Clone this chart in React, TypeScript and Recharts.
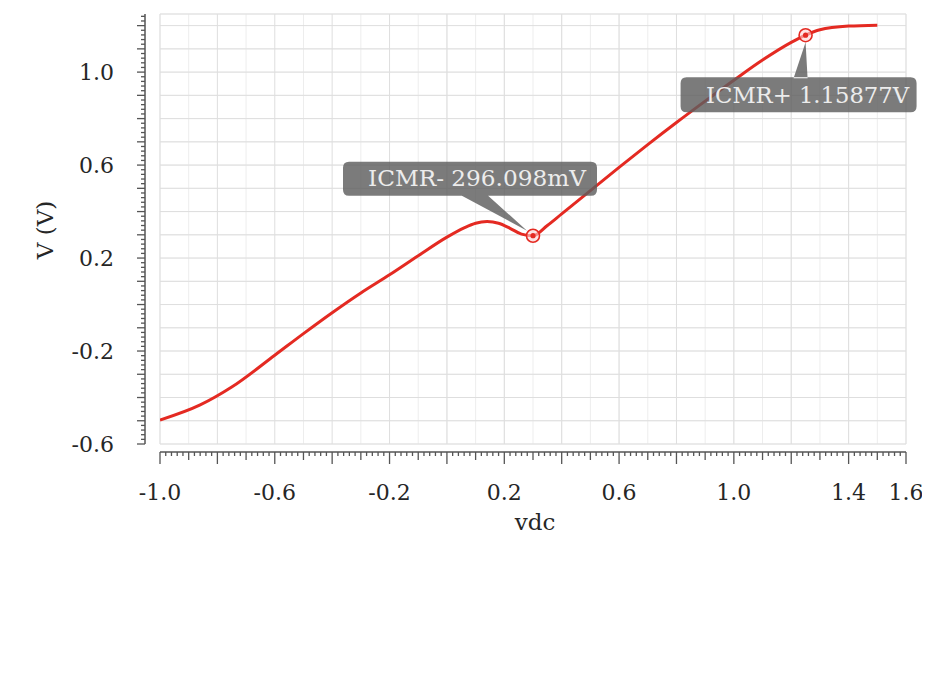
import React from 'react';
import { LineChart, Line, XAxis, YAxis, CartesianGrid, ReferenceDot } from 'recharts';

// ---- data ----
const VDC = [-1.0, -0.86, -0.75, -0.6, -0.5, -0.4, -0.3, -0.2, -0.1, 0.0, 0.06, 0.1, 0.14, 0.18, 0.22, 0.26, 0.3, 0.35, 0.4, 0.5, 0.6, 0.7, 0.8, 0.9, 1.0, 1.1, 1.2, 1.25, 1.3, 1.4, 1.5];
const VOUT = [-0.497, -0.432, -0.355, -0.218, -0.125, -0.035, 0.05, 0.128, 0.21, 0.29, 0.33, 0.35, 0.357, 0.35, 0.328, 0.303, 0.296, 0.34, 0.39, 0.49, 0.59, 0.688, 0.783, 0.875, 0.965, 1.052, 1.128, 1.159, 1.182, 1.198, 1.202];

const X_TICK_LABELS = [-1.0, -0.6, -0.2, 0.2, 0.6, 1.0, 1.4, 1.6];
const Y_TICK_LABELS = [-0.6, -0.2, 0.2, 0.6, 1.0];
const X_DOMAIN: [number, number] = [-1.0, 1.6];
const Y_DOMAIN: [number, number] = [-0.6, 1.25];

const MARKER_X = [0.3, 1.25];
const MARKER_Y = [0.296098, 1.15877];
const MARKER_TEXT = ['ICMR- 296.098mV', 'ICMR+ 1.15877V'];

const X_LABEL = 'vdc';
const Y_LABEL = 'V (V)';

const data = VDC.map((v, i) => ({ vdc: v, v: VOUT[i] }));

// tick / grid positions (axis decoration)
const steps = (from: number, to: number, div: number) => {
  const out: number[] = [];
  for (let k = Math.round(from * div); k <= Math.round(to * div) + 1e-9; k++) out.push(k / div);
  return out;
};
const X_TICKS = steps(-1.0, 1.6, 50);
const Y_TICKS = steps(-0.6, 1.24, 50);
const GX_MINOR = steps(-1.0, 1.6, 10);
const GX_MAJOR = steps(-1.0, 1.6, 5);
const GY_MINOR = steps(-0.6, 1.25, 20);
const GY_MAJOR = steps(-0.6, 1.2, 10);

// ---- styles ----
const FONT = "'DejaVu Serif', serif";
const AXIS_COLOR = '#555';
const TEXT_COLOR = '#262626';
const LINE_COLOR = '#e42a22';
const X_AXIS_SHIFT = 8;
const Y_AXIS_SHIFT = -15;

const findLabel = (list: number[], v: number) => list.find((l) => Math.abs(l - v) < 1e-6);

const XTick = (props: any) => {
  const { x, y, payload } = props;
  const v = payload.value as number;
  const k = Math.round(v * 50);
  const len = k % 10 === 0 ? 12 : k % 5 === 0 ? 8 : 4;
  const y0 = y + X_AXIS_SHIFT;
  const lab = findLabel(X_TICK_LABELS, v);
  return (
    <g>
      <line x1={x} x2={x} y1={y0} y2={y0 + len} stroke={AXIS_COLOR} strokeWidth={1.3} />
      {lab !== undefined && (
        <text x={x} y={y + 56} textAnchor="middle" fontFamily={FONT} fontSize={22} fill={TEXT_COLOR}>
          {lab.toFixed(1)}
        </text>
      )}
    </g>
  );
};

const YTick = (props: any) => {
  const { x, y, payload } = props;
  const v = payload.value as number;
  const k = Math.round(v * 50);
  const len = k % 5 === 0 ? 8 : 4;
  const x0 = x + Y_AXIS_SHIFT;
  const lab = findLabel(Y_TICK_LABELS, v);
  return (
    <g>
      <line x1={x0} x2={x0 - len} y1={y} y2={y} stroke={AXIS_COLOR} strokeWidth={1.3} />
      {lab !== undefined && (
        <text x={x - 46} y={y + 8} textAnchor="end" fontFamily={FONT} fontSize={22} fill={TEXT_COLOR}>
          {lab.toFixed(1)}
        </text>
      )}
    </g>
  );
};

const XLabel = (props: any) => {
  const { viewBox } = props;
  return (
    <text x={viewBox.x + viewBox.width / 2 + 2} y={viewBox.y + 86} textAnchor="middle" fontFamily={FONT} fontSize={23} fill={TEXT_COLOR}>
      {X_LABEL}
    </text>
  );
};

const YLabel = (props: any) => {
  const { viewBox } = props;
  const cx = viewBox.x + 37;
  const cy = viewBox.y + viewBox.height / 2 + 1;
  return (
    <text x={cx} y={cy} transform={`rotate(-90 ${cx} ${cy})`} textAnchor="middle" dominantBaseline="central" fontFamily={FONT} fontSize={23} fill={TEXT_COLOR}>
      {Y_LABEL}
    </text>
  );
};

// callout geometry relative to marker centre
const CALLOUTS = [
  { bx: -190, by: -74, bw: 254, bh: 34, ptr: [[-73, -41], [-46, -41], [-6, -5]], tx: -56, ty: -50, tw: 218 },
  { bx: -125, by: 42, bw: 236, bh: 35, ptr: [[-12, 43], [2, 43], [0, 7]], tx: 2, ty: 68, tw: 203 },
];

const roundRect = (x: number, y: number, w: number, h: number, r: number) =>
  `M${x + r},${y} H${x + w - r} Q${x + w},${y} ${x + w},${y + r} V${y + h - r} Q${x + w},${y + h} ${x + w - r},${y + h} H${x + r} Q${x},${y + h} ${x},${y + h - r} V${y + r} Q${x},${y} ${x + r},${y} Z`;

const makeCallout = (i: number) => (props: any) => {
  const { cx, cy } = props;
  const c = CALLOUTS[i];
  const p = c.ptr.map(([dx, dy]) => `${cx + dx},${cy + dy}`);
  const d = roundRect(cx + c.bx, cy + c.by, c.bw, c.bh, 6) + ` M${p[0]} L${p[1]} L${p[2]} Z`;
  return (
    <g>
      <circle cx={cx} cy={cy} r={6.5} fill="rgba(255,210,210,0.6)" stroke={LINE_COLOR} strokeWidth={1.6} />
      <circle cx={cx} cy={cy} r={2.6} fill={LINE_COLOR} />
      <path d={d} fill="#5e5e5e" fillOpacity={0.82} />
      <text
        x={cx + c.tx}
        y={cy + c.ty}
        textAnchor="middle"
        fontFamily={FONT}
        fontSize={22}
        fill="#ececec"
        textLength={c.tw}
        lengthAdjust="spacingAndGlyphs"
      >
        {MARKER_TEXT[i]}
      </text>
    </g>
  );
};

export default function App() {
  return (
    <LineChart width={914} height={600} data={data} margin={{ top: 6, right: 16, left: 0, bottom: 0 }}>
      <XAxis
        xAxisId="main"
        dataKey="vdc"
        type="number"
        domain={X_DOMAIN}
        allowDataOverflow
        ticks={X_TICKS}
        interval={0}
        height={164}
        tickSize={0}
        tickMargin={0}
        tickLine={false}
        axisLine={{ stroke: AXIS_COLOR, strokeWidth: 1.5, transform: `translate(0, ${X_AXIS_SHIFT})` }}
        tick={<XTick />}
        label={<XLabel />}
      />
      <YAxis
        yAxisId="main"
        type="number"
        domain={Y_DOMAIN}
        allowDataOverflow
        ticks={Y_TICKS}
        interval={0}
        width={152}
        tickSize={0}
        tickMargin={0}
        tickLine={false}
        axisLine={{ stroke: AXIS_COLOR, strokeWidth: 1.5, transform: `translate(${Y_AXIS_SHIFT}, 0)` }}
        tick={<YTick />}
        label={<YLabel />}
      />
      <XAxis xAxisId="gx1" dataKey="vdc" type="number" domain={X_DOMAIN} allowDataOverflow ticks={GX_MINOR} hide height={0} />
      <XAxis xAxisId="gx2" dataKey="vdc" type="number" domain={X_DOMAIN} allowDataOverflow ticks={GX_MAJOR} hide height={0} />
      <YAxis yAxisId="gy1" type="number" domain={Y_DOMAIN} allowDataOverflow ticks={GY_MINOR} hide width={0} />
      <YAxis yAxisId="gy2" type="number" domain={Y_DOMAIN} allowDataOverflow ticks={GY_MAJOR} hide width={0} />
      <CartesianGrid xAxisId="gx1" yAxisId="gy1" stroke="#ededed" strokeWidth={1} />
      <CartesianGrid xAxisId="gx2" yAxisId="gy2" stroke="#dedede" strokeWidth={1} />
      <Line
        xAxisId="main"
        yAxisId="main"
        type="monotone"
        dataKey="v"
        stroke={LINE_COLOR}
        strokeWidth={3}
        dot={false}
        isAnimationActive={false}
      />
      {MARKER_X.map((mx, i) => (
        <ReferenceDot
          key={i}
          xAxisId="main"
          yAxisId="main"
          x={mx}
          y={MARKER_Y[i]}
          r={6}
          ifOverflow="visible"
          shape={makeCallout(i)}
        />
      ))}
    </LineChart>
  );
}
